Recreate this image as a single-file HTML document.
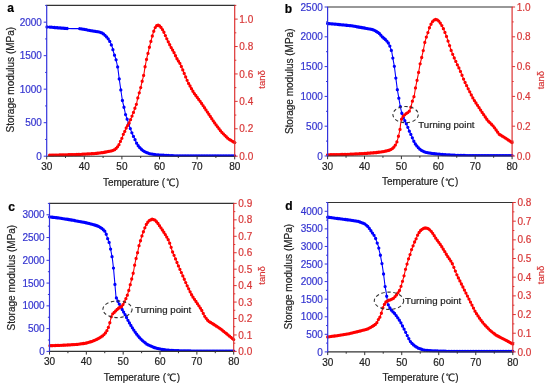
<!DOCTYPE html><html><head><meta charset="utf-8"><title>DMA curves</title><style>html,body{margin:0;padding:0;background:#fff;width:550px;height:388px;overflow:hidden}svg{display:block}text{font-family:"Liberation Sans", Arial, sans-serif;stroke-width:0.2px}</style></head><body>
<svg width="550" height="388" viewBox="0 0 550 388">
<rect width="550" height="388" fill="#fff"/>
<g id="pa"><clipPath id="cpa"><rect x="42.7" y="3.4" width="196" height="153.4"/></clipPath><g clip-path="url(#cpa)"><path d="M47 27 L50 27.1 L58 27.8 L66.9 28.5 L72 28.6 L78.9 28.6 L85 29.5 L90 30.5 L95 31.4 L99.3 31.9 L101.9 32.9 L103.9 34.2 L106.7 37 L108.6 39.3 L110.4 42.6 L112.3 47.2 L113.7 52.8 L116 59.5 L117.8 67.6 L119.1 78 L120.9 90.5 L122.4 100.5 L124.3 108.6 L125.5 114.4 L127.3 119.6 L128.8 124 L130.2 128.3 L131.7 132.4 L133.4 136.3 L135 139.6 L136.2 142.5 L137.9 145.4 L140 147.9 L142.4 150.3 L145.3 152 L149.4 153.6 L154.4 154.5 L160 155.1 L166 155.4 L175 155.8 L234.7 155.9" fill="none" stroke="#0000ff" stroke-width="1.1" stroke-linejoin="round"/><path d="M47 27h0M49.72 27.09h0M51.3 27.21h0M52.88 27.35h0M54.46 27.49h0M56.04 27.63h0M57.62 27.77h0M59.2 27.89h0M60.78 28.02h0M62.36 28.14h0M63.94 28.27h0M65.52 28.39h0M67.1 28.5h0M79.74 28.72h0M81.32 28.96h0M82.9 29.19h0M84.48 29.42h0M86.06 29.71h0M87.64 30.03h0M89.22 30.34h0M90.8 30.64h0M92.38 30.93h0M93.96 31.21h0M95.54 31.46h0M97.12 31.65h0M98.7 31.83h0M100.28 32.28h0M101.86 32.88h0M103.44 33.9h0M105.02 35.32h0M106.6 36.9h0M108.18 38.79h0M109.76 41.43h0M111.34 44.88h0M112.92 49.68h0M114.5 55.13h0M116.08 59.86h0M117.66 66.97h0M119.24 78.97h0M120.82 89.94h0M122.4 100.5h0M123.98 107.24h0M125.56 114.57h0M127.14 119.14h0M128.72 123.77h0M130.3 128.57h0M131.88 132.81h0M133.46 136.42h0M135.04 139.7h0M136.62 143.22h0M138.2 145.76h0M139.78 147.64h0M141.36 149.26h0M142.94 150.62h0M144.52 151.54h0M146.1 152.31h0M147.68 152.93h0M149.26 153.55h0M150.84 153.86h0M152.42 154.14h0M154 154.43h0M155.58 154.63h0M157.16 154.8h0M158.74 154.96h0M160.32 155.12h0M161.9 155.19h0M163.48 155.27h0M165.06 155.35h0M166.64 155.43h0M168.22 155.5h0M169.8 155.57h0M171.38 155.64h0M172.96 155.71h0M174.54 155.78h0M176.12 155.8h0M177.7 155.8h0M179.28 155.81h0M180.86 155.81h0M182.44 155.81h0M184.02 155.82h0M185.6 155.82h0M187.18 155.82h0M188.76 155.82h0M190.34 155.83h0M191.92 155.83h0M193.5 155.83h0M195.08 155.83h0M196.66 155.84h0M198.24 155.84h0M199.82 155.84h0M201.4 155.84h0M202.98 155.85h0M204.56 155.85h0M206.14 155.85h0M207.72 155.85h0M209.3 155.86h0M210.88 155.86h0M212.46 155.86h0M214.04 155.87h0M215.62 155.87h0M217.2 155.87h0M218.78 155.87h0M220.36 155.88h0M221.94 155.88h0M223.52 155.88h0M225.1 155.88h0M226.68 155.89h0M228.26 155.89h0M229.84 155.89h0M231.42 155.89h0M233 155.9h0M234.58 155.9h0" fill="none" stroke="#0000ff" stroke-width="3.3" stroke-linecap="round"/><path d="M49.6 155.2 L60 155 L80 154.4 L94.5 153.6 L103.3 152.5 L109 151.4 L112.6 150.6 L114.8 149.6 L117.1 147.4 L119 144.6 L120.5 141.2 L122 138.1 L123.3 134.4 L125 131 L126.5 127.3 L128.7 123.8 L130.4 120.1 L132 116.1 L133.5 112.3 L134.9 108.3 L136.5 104 L137.5 99.1 L139 93.8 L140.7 87.7 L142.2 81.1 L143.9 74.3 L144.9 67.6 L146.6 59 L148.5 51.2 L150 44.8 L151.6 38.6 L153.1 33.2 L154.7 28.5 L156.2 25.9 L158.2 25.1 L160.1 26.2 L161.9 28.5 L164 32.4 L166.3 37.8 L168.6 42.5 L170.9 47.1 L174 52.5 L176.8 58.5 L180.2 63.8 L183 70.5 L187.8 82 L193.6 92.5 L200.5 101.8 L207.5 112.2 L214.4 122.6 L221.4 131.9 L228.4 138.9 L234.7 142.6" fill="none" stroke="#ff0000" stroke-width="1.1" stroke-linejoin="round"/><path d="M49.6 155.2h0M50.82 155.18h0M52.27 155.15h0M53.72 155.12h0M55.17 155.09h0M56.62 155.06h0M58.07 155.04h0M59.52 155.01h0M60.97 154.97h0M62.42 154.93h0M63.87 154.88h0M65.32 154.84h0M66.77 154.8h0M68.22 154.75h0M69.67 154.71h0M71.12 154.67h0M72.57 154.62h0M74.02 154.58h0M75.47 154.54h0M76.92 154.49h0M78.37 154.45h0M79.82 154.41h0M81.27 154.33h0M82.72 154.25h0M84.17 154.17h0M85.62 154.09h0M87.07 154.01h0M88.52 153.93h0M89.97 153.85h0M91.42 153.77h0M92.87 153.69h0M94.32 153.61h0M95.77 153.44h0M97.22 153.26h0M98.67 153.08h0M100.12 152.9h0M101.57 152.72h0M103.02 152.53h0M104.47 152.27h0M105.92 151.99h0M107.37 151.71h0M108.82 151.43h0M110.27 151.12h0M111.72 150.8h0M113.17 150.34h0M114.62 149.68h0M116.07 148.39h0M117.52 146.78h0M118.97 144.64h0M120.42 141.38h0M121.87 138.37h0M123.32 134.36h0M124.77 131.46h0M126.22 127.99h0M127.67 125.44h0M129.12 122.89h0M130.57 119.67h0M132.02 116.05h0M133.47 112.38h0M134.92 108.25h0M136.37 104.35h0M137.82 97.97h0M139.27 92.83h0M140.72 87.61h0M142.17 81.23h0M143.62 75.42h0M145.07 66.74h0M146.52 59.4h0M147.97 53.38h0M149.42 47.27h0M150.87 41.43h0M152.32 36.01h0M153.77 31.23h0M155.22 27.6h0M156.67 25.71h0M158.12 25.13h0M159.57 25.89h0M161.02 27.38h0M162.47 29.56h0M163.92 32.25h0M165.37 35.62h0M166.82 38.86h0M168.27 41.83h0M169.72 44.74h0M171.17 47.57h0M172.62 50.1h0M174.07 52.65h0M175.52 55.76h0M176.97 58.77h0M178.42 61.03h0M179.87 63.29h0M181.32 66.48h0M182.77 69.95h0M184.22 73.42h0M185.67 76.9h0M187.12 80.37h0M188.57 83.39h0M190.02 86.02h0M191.47 88.64h0M192.92 91.27h0M194.37 93.54h0M195.82 95.49h0M197.27 97.45h0M198.72 99.4h0M200.17 101.36h0M201.62 103.46h0M203.07 105.62h0M204.52 107.77h0M205.97 109.93h0M207.42 112.08h0M208.87 114.26h0M210.32 116.45h0M211.77 118.64h0M213.22 120.82h0M214.67 122.96h0M216.12 124.89h0M217.57 126.81h0M219.02 128.74h0M220.47 130.66h0M221.92 132.42h0M223.37 133.87h0M224.82 135.32h0M226.27 136.77h0M227.72 138.22h0M229.17 139.35h0M230.62 140.2h0M232.07 141.06h0M233.52 141.91h0M234.7 142.6h0" fill="none" stroke="#ff0000" stroke-width="3.3" stroke-linecap="round"/></g><path d="M46.2 5.4H235.2" stroke="#333333" stroke-width="1.1"/><path d="M46.7 156.2H234.7" stroke="#333333" stroke-width="1.1"/><path d="M46.7 5.4V156.7" stroke="#3333dd" stroke-width="1.2"/><path d="M234.7 5.4V156.7" stroke="#dd3333" stroke-width="1.2"/><path d="M46.7 156.2v3.2M65.5 156.2v1.8M84.3 156.2v3.2M103.1 156.2v1.8M121.9 156.2v3.2M140.7 156.2v1.8M159.5 156.2v3.2M178.3 156.2v1.8M197.1 156.2v3.2M215.9 156.2v1.8M234.7 156.2v3.2" stroke="#333333" stroke-width="1"/><text x="46.7" y="169.8" font-size="10" fill="#222222" stroke="#222222" text-anchor="middle">30</text><text x="84.3" y="169.8" font-size="10" fill="#222222" stroke="#222222" text-anchor="middle">40</text><text x="121.9" y="169.8" font-size="10" fill="#222222" stroke="#222222" text-anchor="middle">50</text><text x="159.5" y="169.8" font-size="10" fill="#222222" stroke="#222222" text-anchor="middle">60</text><text x="197.1" y="169.8" font-size="10" fill="#222222" stroke="#222222" text-anchor="middle">70</text><text x="234.7" y="169.8" font-size="10" fill="#222222" stroke="#222222" text-anchor="middle">80</text><text x="41.9" y="159.8" font-size="10" fill="#3535d0" stroke="#3535d0" text-anchor="end">0</text><text x="41.9" y="126.29" font-size="10" fill="#3535d0" stroke="#3535d0" text-anchor="end">500</text><text x="41.9" y="92.78" font-size="10" fill="#3535d0" stroke="#3535d0" text-anchor="end">1000</text><text x="41.9" y="59.27" font-size="10" fill="#3535d0" stroke="#3535d0" text-anchor="end">1500</text><text x="41.9" y="25.76" font-size="10" fill="#3535d0" stroke="#3535d0" text-anchor="end">2000</text><path d="M46.7 156.2h-3M46.7 139.44h-1.6M46.7 122.69h-3M46.7 105.93h-1.6M46.7 89.18h-3M46.7 72.42h-1.6M46.7 55.67h-3M46.7 38.91h-1.6M46.7 22.16h-3M46.7 5.4h-1.6" stroke="#3333dd" stroke-width="1"/><text x="239.3" y="159.8" font-size="10" fill="#d83838" stroke="#d83838">0.0</text><text x="239.3" y="132.38" font-size="10" fill="#d83838" stroke="#d83838">0.2</text><text x="239.3" y="104.96" font-size="10" fill="#d83838" stroke="#d83838">0.4</text><text x="239.3" y="77.55" font-size="10" fill="#d83838" stroke="#d83838">0.6</text><text x="239.3" y="50.13" font-size="10" fill="#d83838" stroke="#d83838">0.8</text><text x="239.3" y="22.71" font-size="10" fill="#d83838" stroke="#d83838">1.0</text><path d="M234.7 156.2h3M234.7 142.49h1.6M234.7 128.78h3M234.7 115.07h1.6M234.7 101.36h3M234.7 87.65h1.6M234.7 73.95h3M234.7 60.24h1.6M234.7 46.53h3M234.7 32.82h1.6M234.7 19.11h3M234.7 5.4h1.6" stroke="#dd3333" stroke-width="1"/><text x="102.9" y="186" font-size="10" fill="#222222" stroke="#222222">Temperature (</text><text x="166.2" y="186.3" font-size="10" fill="#222222" stroke="#222222" style="font-family:'WenQuanYi Zen Hei','Noto Sans CJK SC',sans-serif">℃</text><text x="175.8" y="186" font-size="10" fill="#222222" stroke="#222222">)</text><text transform="translate(14 79.7) rotate(-90)" font-size="10" fill="#222222" stroke="#222222" text-anchor="middle">Storage modulus (MPa)</text><text transform="translate(265.3 79.4) rotate(-90)" font-size="9.5" fill="#d83838" stroke="#d83838" text-anchor="middle">tanδ</text><text x="7.2" y="11.6" font-size="12" font-weight="bold" fill="#000" stroke="#000">a</text></g>
<g id="pb"><clipPath id="cpb"><rect x="323.6" y="5" width="192.5" height="151.6"/></clipPath><g clip-path="url(#cpb)"><path d="M327.6 23.5 L337.9 24.4 L350.8 25.7 L363.7 27.9 L371.4 29.3 L374.3 30.2 L376.5 31.6 L378.9 33 L382.6 37.2 L385.9 40 L388.2 42.7 L390 46.4 L391.7 51.5 L392.7 57.3 L394.4 66.7 L395.8 77.8 L397.3 89.4 L398.75 97.6 L400 105 L400.6 107.8 L401.7 112.8 L403.2 117.4 L405.1 121.3 L406.6 124.4 L408.2 128.2 L409.7 132.1 L411.6 136 L413.1 139.8 L415.1 143.7 L417.5 146.8 L420.5 149.9 L425.2 152.2 L431.4 153.4 L444.5 154.7 L455 155.3 L470 155.6 L512.1 155.7" fill="none" stroke="#0000ff" stroke-width="1.1" stroke-linejoin="round"/><path d="M327.6 23.5h0M328.34 23.56h0M329.84 23.7h0M331.34 23.83h0M332.84 23.96h0M334.34 24.09h0M335.84 24.22h0M337.34 24.35h0M338.84 24.49h0M340.34 24.65h0M341.84 24.8h0M343.34 24.95h0M344.84 25.1h0M346.34 25.25h0M347.84 25.4h0M349.34 25.55h0M350.84 25.71h0M352.34 25.96h0M353.84 26.22h0M355.34 26.47h0M356.84 26.73h0M358.34 26.99h0M359.84 27.24h0M361.34 27.5h0M362.84 27.75h0M364.34 28.02h0M365.84 28.29h0M367.34 28.56h0M368.84 28.83h0M370.34 29.11h0M371.84 29.44h0M373.34 29.9h0M374.84 30.54h0M376.34 31.5h0M377.84 32.38h0M379.34 33.5h0M380.84 35.2h0M382.34 36.9h0M383.84 38.25h0M385.34 39.52h0M386.84 41.1h0M388.34 42.99h0M389.84 46.07h0M391.34 50.42h0M392.84 58.07h0M394.34 66.37h0M395.84 78.11h0M397.34 89.63h0M398.84 98.13h0M400.34 106.59h0M401.84 113.23h0M403.34 117.69h0M404.84 120.77h0M406.34 123.86h0M407.84 127.35h0M409.34 131.16h0M410.84 134.44h0M412.34 137.87h0M413.84 141.24h0M415.34 144.01h0M416.84 145.95h0M418.34 147.67h0M419.84 149.22h0M421.34 150.31h0M422.84 151.05h0M424.34 151.78h0M425.84 152.32h0M427.34 152.61h0M428.84 152.9h0M430.34 153.19h0M431.84 153.44h0M433.34 153.59h0M434.84 153.74h0M436.34 153.89h0M437.84 154.04h0M439.34 154.19h0M440.84 154.34h0M442.34 154.49h0M443.84 154.63h0M445.34 154.75h0M446.84 154.83h0M448.34 154.92h0M449.84 155.01h0M451.34 155.09h0M452.84 155.18h0M454.34 155.26h0M455.84 155.32h0M457.34 155.35h0M458.84 155.38h0M460.34 155.41h0M461.84 155.44h0M463.34 155.47h0M464.84 155.5h0M466.34 155.53h0M467.84 155.56h0M469.34 155.59h0M470.84 155.6h0M472.34 155.61h0M473.84 155.61h0M475.34 155.61h0M476.84 155.62h0M478.34 155.62h0M479.84 155.62h0M481.34 155.63h0M482.84 155.63h0M484.34 155.63h0M485.84 155.64h0M487.34 155.64h0M488.84 155.64h0M490.34 155.65h0M491.84 155.65h0M493.34 155.66h0M494.84 155.66h0M496.34 155.66h0M497.84 155.67h0M499.34 155.67h0M500.84 155.67h0M502.34 155.68h0M503.84 155.68h0M505.34 155.68h0M506.84 155.69h0M508.34 155.69h0M509.84 155.69h0M511.34 155.7h0M512.1 155.7h0" fill="none" stroke="#0000ff" stroke-width="3.3" stroke-linecap="round"/><path d="M327.6 154.8 L346.8 154.4 L364.3 153.5 L375.9 152.6 L383.2 151.6 L386.5 150.9 L389 150.3 L391.2 149.3 L392.6 148.5 L394.3 146.6 L395.4 145 L396.6 142.9 L397.9 138.6 L399.2 133 L400.1 129 L400.5 124.6 L401.5 119.3 L402.6 116.8 L404.5 114.9 L406.8 113.1 L408.5 112.2 L409.6 110.8 L411 106.8 L412.2 101.8 L413.1 98.9 L414.2 96 L415.5 87.9 L417.1 80.1 L418.6 72.4 L419.9 64.8 L421.7 57.5 L423.5 49.5 L424.7 42.8 L426.4 36.9 L428.2 31.7 L429.6 27.3 L431.2 23.8 L433 20.9 L435.1 19.4 L437.2 19.8 L439 21.3 L441.3 24.5 L443.2 28.2 L444.6 31.6 L446.2 35.5 L447.8 40.4 L449.3 44.6 L451 50 L452.9 54.8 L454.9 59.5 L457 64.1 L459.7 69.6 L464.3 80.9 L468.9 90.2 L473.6 99.4 L478.2 106.4 L482.8 113.4 L487.5 120.3 L493.3 126.1 L499.1 134.2 L504.9 137.7 L512.1 142.6" fill="none" stroke="#ff0000" stroke-width="1.1" stroke-linejoin="round"/><path d="M327.6 154.8h0M328.7 154.78h0M330.25 154.74h0M331.8 154.71h0M333.35 154.68h0M334.9 154.65h0M336.45 154.62h0M338 154.58h0M339.55 154.55h0M341.1 154.52h0M342.65 154.49h0M344.2 154.45h0M345.75 154.42h0M347.3 154.37h0M348.85 154.29h0M350.4 154.21h0M351.95 154.14h0M353.5 154.06h0M355.05 153.98h0M356.6 153.9h0M358.15 153.82h0M359.7 153.74h0M361.25 153.66h0M362.8 153.58h0M364.35 153.5h0M365.9 153.38h0M367.45 153.26h0M369 153.14h0M370.55 153.02h0M372.1 152.89h0M373.65 152.77h0M375.2 152.65h0M376.75 152.48h0M378.3 152.27h0M379.85 152.06h0M381.4 151.85h0M382.95 151.63h0M384.5 151.32h0M386.05 151h0M387.6 150.64h0M389.15 150.23h0M390.7 149.53h0M392.25 148.7h0M393.8 147.16h0M395.35 145.07h0M396.9 141.91h0M398.45 136.23h0M400 129.44h0M401.55 119.19h0M403.1 116.3h0M404.65 114.78h0M406.2 113.57h0M407.75 112.6h0M409.3 111.18h0M410.85 107.23h0M412.4 101.16h0M413.95 96.66h0M415.5 87.9h0M417.05 80.34h0M418.6 72.4h0M420.15 63.79h0M421.7 57.5h0M423.25 50.61h0M424.8 42.45h0M426.35 37.07h0M427.9 32.57h0M429.45 27.77h0M431 24.24h0M432.55 21.62h0M434.1 20.11h0M435.65 19.5h0M437.2 19.8h0M438.75 21.09h0M440.3 23.11h0M441.85 25.57h0M443.4 28.69h0M444.95 32.45h0M446.5 36.42h0M448.05 41.1h0M449.6 45.55h0M451.15 50.38h0M452.7 54.29h0M454.25 57.97h0M455.8 61.47h0M457.35 64.81h0M458.9 67.97h0M460.45 71.44h0M462 75.25h0M463.55 79.06h0M465.1 82.52h0M466.65 85.65h0M468.2 88.78h0M469.75 91.86h0M471.3 94.9h0M472.85 97.93h0M474.4 100.62h0M475.95 102.98h0M477.5 105.33h0M479.05 107.69h0M480.6 110.05h0M482.15 112.41h0M483.7 114.72h0M485.25 117h0M486.8 119.27h0M488.35 121.15h0M489.9 122.7h0M491.45 124.25h0M493 125.8h0M494.55 127.85h0M496.1 130.01h0M497.65 132.18h0M499.2 134.26h0M500.75 135.2h0M502.3 136.13h0M503.85 137.07h0M505.4 138.04h0M506.95 139.1h0M508.5 140.15h0M510.05 141.2h0M511.6 142.26h0M512.1 142.6h0" fill="none" stroke="#ff0000" stroke-width="3.3" stroke-linecap="round"/></g><path d="M327.1 7H512.6" stroke="#333333" stroke-width="1.1"/><path d="M327.6 156H512.1" stroke="#333333" stroke-width="1.1"/><path d="M327.6 7V156.5" stroke="#3333dd" stroke-width="1.2"/><path d="M512.1 7V156.5" stroke="#dd3333" stroke-width="1.2"/><path d="M327.6 156v3.2M346.05 156v1.8M364.5 156v3.2M382.95 156v1.8M401.4 156v3.2M419.85 156v1.8M438.3 156v3.2M456.75 156v1.8M475.2 156v3.2M493.65 156v1.8M512.1 156v3.2" stroke="#333333" stroke-width="1"/><text x="327.6" y="169.6" font-size="10" fill="#222222" stroke="#222222" text-anchor="middle">30</text><text x="364.5" y="169.6" font-size="10" fill="#222222" stroke="#222222" text-anchor="middle">40</text><text x="401.4" y="169.6" font-size="10" fill="#222222" stroke="#222222" text-anchor="middle">50</text><text x="438.3" y="169.6" font-size="10" fill="#222222" stroke="#222222" text-anchor="middle">60</text><text x="475.2" y="169.6" font-size="10" fill="#222222" stroke="#222222" text-anchor="middle">70</text><text x="512.1" y="169.6" font-size="10" fill="#222222" stroke="#222222" text-anchor="middle">80</text><text x="322.8" y="159.6" font-size="10" fill="#3535d0" stroke="#3535d0" text-anchor="end">0</text><text x="322.8" y="129.8" font-size="10" fill="#3535d0" stroke="#3535d0" text-anchor="end">500</text><text x="322.8" y="100" font-size="10" fill="#3535d0" stroke="#3535d0" text-anchor="end">1000</text><text x="322.8" y="70.2" font-size="10" fill="#3535d0" stroke="#3535d0" text-anchor="end">1500</text><text x="322.8" y="40.4" font-size="10" fill="#3535d0" stroke="#3535d0" text-anchor="end">2000</text><text x="322.8" y="10.6" font-size="10" fill="#3535d0" stroke="#3535d0" text-anchor="end">2500</text><path d="M327.6 156h-3M327.6 141.1h-1.6M327.6 126.2h-3M327.6 111.3h-1.6M327.6 96.4h-3M327.6 81.5h-1.6M327.6 66.6h-3M327.6 51.7h-1.6M327.6 36.8h-3M327.6 21.9h-1.6M327.6 7h-3" stroke="#3333dd" stroke-width="1"/><text x="516.7" y="159.6" font-size="10" fill="#d83838" stroke="#d83838">0.0</text><text x="516.7" y="129.8" font-size="10" fill="#d83838" stroke="#d83838">0.2</text><text x="516.7" y="100" font-size="10" fill="#d83838" stroke="#d83838">0.4</text><text x="516.7" y="70.2" font-size="10" fill="#d83838" stroke="#d83838">0.6</text><text x="516.7" y="40.4" font-size="10" fill="#d83838" stroke="#d83838">0.8</text><text x="516.7" y="10.6" font-size="10" fill="#d83838" stroke="#d83838">1.0</text><path d="M512.1 156h3M512.1 141.1h1.6M512.1 126.2h3M512.1 111.3h1.6M512.1 96.4h3M512.1 81.5h1.6M512.1 66.6h3M512.1 51.7h1.6M512.1 36.8h3M512.1 21.9h1.6M512.1 7h3" stroke="#dd3333" stroke-width="1"/><text x="382.05" y="185.3" font-size="10" fill="#222222" stroke="#222222">Temperature (</text><text x="445.35" y="185.6" font-size="10" fill="#222222" stroke="#222222" style="font-family:'WenQuanYi Zen Hei','Noto Sans CJK SC',sans-serif">℃</text><text x="454.95" y="185.3" font-size="10" fill="#222222" stroke="#222222">)</text><text transform="translate(292.6 81.3) rotate(-90)" font-size="10" fill="#222222" stroke="#222222" text-anchor="middle">Storage modulus (MPa)</text><text transform="translate(543.5 80.1) rotate(-90)" font-size="9.5" fill="#d83838" stroke="#d83838" text-anchor="middle">tanδ</text><text x="284.8" y="13" font-size="12" font-weight="bold" fill="#000" stroke="#000">b</text><ellipse cx="405.6" cy="114.6" rx="12.7" ry="8.1" fill="none" stroke="#333" stroke-width="1.1" stroke-dasharray="3.4 2.6"/><text x="418.3" y="128.3" font-size="9.7" fill="#222222" stroke="#222222">Turning point</text></g>
<g id="pc"><clipPath id="cpc"><rect x="45.5" y="201.4" width="192.2" height="150.6"/></clipPath><g clip-path="url(#cpc)"><path d="M49.5 216.9 L59.9 218.1 L72.8 220.2 L85.7 222.7 L93.4 224.6 L98.5 226.3 L102.4 228.8 L105 231.4 L106.3 234.4 L107.6 238.5 L109.5 243.4 L110.8 250.2 L112.3 258.1 L113.5 268.2 L114.8 282.9 L115.4 290 L116 297 L117.9 301.4 L120 305.5 L122.5 310.1 L124.7 314 L126.7 317.8 L128.7 321.7 L130.9 325.5 L133.3 329.4 L136 333.3 L139 337.1 L142.9 341 L147.3 344.5 L154.5 347.7 L161.8 349.4 L169 350.3 L180 350.8 L195 351.1 L233.7 351.1" fill="none" stroke="#0000ff" stroke-width="1.1" stroke-linejoin="round"/><path d="M49.68 216.92h0M51.13 217.09h0M52.58 217.26h0M54.03 217.42h0M55.48 217.59h0M56.93 217.76h0M58.38 217.92h0M59.83 218.09h0M61.28 218.32h0M62.73 218.56h0M64.18 218.8h0M65.63 219.03h0M67.08 219.27h0M68.53 219.5h0M69.98 219.74h0M71.43 219.98h0M72.88 220.22h0M74.33 220.5h0M75.78 220.78h0M77.23 221.06h0M78.68 221.34h0M80.13 221.62h0M81.58 221.9h0M83.03 222.18h0M84.48 222.46h0M85.93 222.76h0M87.38 223.11h0M88.83 223.47h0M90.28 223.83h0M91.73 224.19h0M93.18 224.55h0M94.63 225.01h0M96.08 225.49h0M97.53 225.98h0M98.98 226.61h0M100.43 227.54h0M101.88 228.47h0M103.33 229.73h0M104.78 231.18h0M106.23 234.24h0M107.68 238.71h0M109.13 242.45h0M110.58 249.05h0M112.03 256.68h0M113.48 268.03h0M114.93 284.44h0M116.38 297.88h0M117.83 301.24h0M119.28 304.09h0M120.73 306.84h0M122.18 309.51h0M123.63 312.1h0M125.08 314.72h0M126.53 317.48h0M127.98 320.3h0M129.43 322.96h0M130.88 325.47h0M132.33 327.82h0M133.78 330.09h0M135.23 332.19h0M136.68 334.16h0M138.13 336h0M139.58 337.68h0M141.03 339.13h0M142.48 340.58h0M143.93 341.82h0M145.38 342.97h0M146.83 344.13h0M148.28 344.94h0M149.73 345.58h0M151.18 346.22h0M152.63 346.87h0M154.08 347.51h0M155.53 347.94h0M156.98 348.28h0M158.43 348.62h0M159.88 348.95h0M161.33 349.29h0M162.78 349.52h0M164.23 349.7h0M165.68 349.89h0M167.13 350.07h0M168.58 350.25h0M170.03 350.35h0M171.48 350.41h0M172.93 350.48h0M174.38 350.54h0M175.83 350.61h0M177.28 350.68h0M178.73 350.74h0M180.18 350.8h0M181.63 350.83h0M183.08 350.86h0M184.53 350.89h0M185.98 350.92h0M187.43 350.95h0M188.88 350.98h0M190.33 351.01h0M191.78 351.04h0M193.23 351.06h0M194.68 351.09h0M196.13 351.1h0M197.58 351.1h0M199.03 351.1h0M200.48 351.1h0M201.93 351.1h0M203.38 351.1h0M204.83 351.1h0M206.28 351.1h0M207.73 351.1h0M209.18 351.1h0M210.63 351.1h0M212.08 351.1h0M213.53 351.1h0M214.98 351.1h0M216.43 351.1h0M217.88 351.1h0M219.33 351.1h0M220.78 351.1h0M222.23 351.1h0M223.68 351.1h0M225.13 351.1h0M226.58 351.1h0M228.03 351.1h0M229.48 351.1h0M230.93 351.1h0M232.38 351.1h0M233.7 351.1h0" fill="none" stroke="#0000ff" stroke-width="3.3" stroke-linecap="round"/><path d="M49.5 345.7 L64.1 345.2 L76.8 344.4 L85.7 343.2 L92.1 341.4 L95 340.2 L98.1 338.7 L102 336.4 L104.5 334.1 L106.1 332.1 L107.4 329.8 L108.8 326.3 L110.4 320.7 L111.5 315.8 L112.6 314 L114.4 312.2 L117.3 309.3 L119.5 307.5 L121.6 306.6 L123.4 303.9 L125.3 300 L127.1 296 L128.8 290.4 L130.2 284.9 L131.8 278.7 L133.3 272.8 L134.75 264.5 L136.1 258.4 L137.7 252.1 L138.7 246.8 L140.2 241.7 L141.7 236.6 L143.3 232 L144.7 228.2 L146.5 224.1 L148.8 220.8 L152.1 219.2 L155.3 220.3 L158.1 223.6 L160.9 227.8 L163.7 232 L166 235.7 L168.3 239.8 L169.8 243.5 L171.2 247.5 L172 250.6 L174 255.2 L175.6 259.1 L177.8 264.5 L182.8 275.9 L187.4 286.3 L192 295.6 L196.7 302.6 L201.3 309.5 L204.8 316.5 L208.3 321.1 L214.1 324.6 L221 329.2 L226.8 333.9 L233.7 339.6" fill="none" stroke="#ff0000" stroke-width="1.1" stroke-linejoin="round"/><path d="M49.96 345.68h0M51.42 345.63h0M52.88 345.58h0M54.34 345.53h0M55.8 345.48h0M57.26 345.43h0M58.72 345.38h0M60.18 345.33h0M61.64 345.28h0M63.1 345.23h0M64.56 345.17h0M66.02 345.08h0M67.48 344.99h0M68.94 344.9h0M70.4 344.8h0M71.86 344.71h0M73.32 344.62h0M74.78 344.53h0M76.24 344.44h0M77.7 344.28h0M79.16 344.08h0M80.62 343.88h0M82.08 343.69h0M83.54 343.49h0M85 343.29h0M86.46 342.99h0M87.92 342.58h0M89.38 342.16h0M90.84 341.75h0M92.3 341.32h0M93.76 340.71h0M95.22 340.09h0M96.68 339.39h0M98.14 338.68h0M99.6 337.82h0M101.06 336.95h0M102.52 335.92h0M103.98 334.58h0M105.44 332.93h0M106.9 330.68h0M108.36 327.4h0M109.82 322.73h0M111.28 316.78h0M112.74 313.86h0M114.2 312.4h0M115.66 310.94h0M117.12 309.48h0M118.58 308.25h0M120.04 307.27h0M121.5 306.64h0M122.96 304.56h0M124.42 301.81h0M125.88 298.71h0M127.34 295.21h0M128.8 290.4h0M130.26 284.67h0M131.72 279.01h0M133.18 273.27h0M134.64 265.13h0M136.1 258.4h0M137.56 252.65h0M139.02 245.71h0M140.48 240.75h0M141.94 235.91h0M143.4 231.73h0M144.86 227.84h0M146.32 224.51h0M147.78 222.26h0M149.24 220.59h0M150.7 219.88h0M152.16 219.22h0M153.62 219.72h0M155.08 220.22h0M156.54 221.76h0M158 223.48h0M159.46 225.64h0M160.92 227.83h0M162.38 230.02h0M163.84 232.23h0M165.3 234.57h0M166.76 237.05h0M168.22 239.66h0M169.68 243.2h0M171.14 247.33h0M172.6 251.98h0M174.06 255.35h0M175.52 258.91h0M176.98 262.49h0M178.44 265.96h0M179.9 269.29h0M181.36 272.62h0M182.82 275.95h0M184.28 279.25h0M185.74 282.55h0M187.2 285.85h0M188.66 288.85h0M190.12 291.8h0M191.58 294.75h0M193.04 297.15h0M194.5 299.32h0M195.96 301.5h0M197.42 303.68h0M198.88 305.87h0M200.34 308.06h0M201.8 310.5h0M203.26 313.42h0M204.72 316.34h0M206.18 318.31h0M207.64 320.23h0M209.1 321.58h0M210.56 322.46h0M212.02 323.34h0M213.48 324.23h0M214.94 325.16h0M216.4 326.13h0M217.86 327.11h0M219.32 328.08h0M220.78 329.05h0M222.24 330.2h0M223.7 331.39h0M225.16 332.57h0M226.62 333.75h0M228.08 334.96h0M229.54 336.16h0M231 337.37h0M232.46 338.58h0M233.7 339.6h0" fill="none" stroke="#ff0000" stroke-width="3.3" stroke-linecap="round"/></g><path d="M49 203.4H234.2" stroke="#333333" stroke-width="1.1"/><path d="M49.5 351.4H233.7" stroke="#333333" stroke-width="1.1"/><path d="M49.5 203.4V351.9" stroke="#3333dd" stroke-width="1.2"/><path d="M233.7 203.4V351.9" stroke="#dd3333" stroke-width="1.2"/><path d="M49.5 351.4v3.2M67.92 351.4v1.8M86.34 351.4v3.2M104.76 351.4v1.8M123.18 351.4v3.2M141.6 351.4v1.8M160.02 351.4v3.2M178.44 351.4v1.8M196.86 351.4v3.2M215.28 351.4v1.8M233.7 351.4v3.2" stroke="#333333" stroke-width="1"/><text x="49.5" y="365" font-size="10" fill="#222222" stroke="#222222" text-anchor="middle">30</text><text x="86.34" y="365" font-size="10" fill="#222222" stroke="#222222" text-anchor="middle">40</text><text x="123.18" y="365" font-size="10" fill="#222222" stroke="#222222" text-anchor="middle">50</text><text x="160.02" y="365" font-size="10" fill="#222222" stroke="#222222" text-anchor="middle">60</text><text x="196.86" y="365" font-size="10" fill="#222222" stroke="#222222" text-anchor="middle">70</text><text x="233.7" y="365" font-size="10" fill="#222222" stroke="#222222" text-anchor="middle">80</text><text x="44.7" y="355" font-size="10" fill="#3535d0" stroke="#3535d0" text-anchor="end">0</text><text x="44.7" y="332.23" font-size="10" fill="#3535d0" stroke="#3535d0" text-anchor="end">500</text><text x="44.7" y="309.46" font-size="10" fill="#3535d0" stroke="#3535d0" text-anchor="end">1000</text><text x="44.7" y="286.69" font-size="10" fill="#3535d0" stroke="#3535d0" text-anchor="end">1500</text><text x="44.7" y="263.92" font-size="10" fill="#3535d0" stroke="#3535d0" text-anchor="end">2000</text><text x="44.7" y="241.15" font-size="10" fill="#3535d0" stroke="#3535d0" text-anchor="end">2500</text><text x="44.7" y="218.38" font-size="10" fill="#3535d0" stroke="#3535d0" text-anchor="end">3000</text><path d="M49.5 351.4h-3M49.5 340.02h-1.6M49.5 328.63h-3M49.5 317.25h-1.6M49.5 305.86h-3M49.5 294.48h-1.6M49.5 283.09h-3M49.5 271.71h-1.6M49.5 260.32h-3M49.5 248.94h-1.6M49.5 237.55h-3M49.5 226.17h-1.6M49.5 214.78h-3M49.5 203.4h-1.6" stroke="#3333dd" stroke-width="1"/><text x="238.3" y="355" font-size="10" fill="#d83838" stroke="#d83838">0.0</text><text x="238.3" y="338.56" font-size="10" fill="#d83838" stroke="#d83838">0.1</text><text x="238.3" y="322.11" font-size="10" fill="#d83838" stroke="#d83838">0.2</text><text x="238.3" y="305.67" font-size="10" fill="#d83838" stroke="#d83838">0.3</text><text x="238.3" y="289.22" font-size="10" fill="#d83838" stroke="#d83838">0.4</text><text x="238.3" y="272.78" font-size="10" fill="#d83838" stroke="#d83838">0.5</text><text x="238.3" y="256.33" font-size="10" fill="#d83838" stroke="#d83838">0.6</text><text x="238.3" y="239.89" font-size="10" fill="#d83838" stroke="#d83838">0.7</text><text x="238.3" y="223.44" font-size="10" fill="#d83838" stroke="#d83838">0.8</text><text x="238.3" y="207" font-size="10" fill="#d83838" stroke="#d83838">0.9</text><path d="M233.7 351.4h3M233.7 343.18h1.6M233.7 334.96h3M233.7 326.73h1.6M233.7 318.51h3M233.7 310.29h1.6M233.7 302.07h3M233.7 293.84h1.6M233.7 285.62h3M233.7 277.4h1.6M233.7 269.18h3M233.7 260.96h1.6M233.7 252.73h3M233.7 244.51h1.6M233.7 236.29h3M233.7 228.07h1.6M233.7 219.84h3M233.7 211.62h1.6M233.7 203.4h3" stroke="#dd3333" stroke-width="1"/><text x="103.8" y="380.6" font-size="10" fill="#222222" stroke="#222222">Temperature (</text><text x="167.1" y="380.9" font-size="10" fill="#222222" stroke="#222222" style="font-family:'WenQuanYi Zen Hei','Noto Sans CJK SC',sans-serif">℃</text><text x="176.7" y="380.6" font-size="10" fill="#222222" stroke="#222222">)</text><text transform="translate(15.3 277.6) rotate(-90)" font-size="10" fill="#222222" stroke="#222222" text-anchor="middle">Storage modulus (MPa)</text><text transform="translate(264.6 275.5) rotate(-90)" font-size="9.5" fill="#d83838" stroke="#d83838" text-anchor="middle">tanδ</text><text x="8.2" y="210.9" font-size="12" font-weight="bold" fill="#000" stroke="#000">c</text><ellipse cx="117.5" cy="309.3" rx="14.6" ry="8.3" fill="none" stroke="#333" stroke-width="1.1" stroke-dasharray="3.4 2.6"/><text x="135.1" y="313" font-size="9.7" fill="#222222" stroke="#222222">Turning point</text></g>
<g id="pd"><clipPath id="cpd"><rect x="323.7" y="200.5" width="193.1" height="152"/></clipPath><g clip-path="url(#cpd)"><path d="M327.7 217.2 L337.9 218.5 L350.8 220.2 L358.5 221.5 L364.3 223.6 L368 226.6 L370.3 229.8 L371.9 232.3 L373.7 234.7 L375.3 237.5 L376.6 241.4 L378.6 246.8 L379.1 250.1 L380.2 254.3 L382.1 264.3 L383.6 274.4 L384.3 280 L385.1 286.5 L386.3 293.1 L386.9 297.8 L387.9 304 L389.7 307.8 L392 310.9 L395.1 314 L397.8 317.9 L400.4 321.8 L402.3 325.6 L404.45 329.8 L406.5 334 L408.5 338.2 L410.8 342.3 L414 345.4 L418.4 348.2 L424.2 350.2 L433.1 350.9 L450.9 351.4 L512.8 351.5" fill="none" stroke="#0000ff" stroke-width="1.1" stroke-linejoin="round"/><path d="M327.7 217.2h0M328.24 217.27h0M329.82 217.47h0M331.4 217.67h0M332.98 217.87h0M334.56 218.07h0M336.14 218.28h0M337.72 218.48h0M339.3 218.68h0M340.88 218.89h0M342.46 219.1h0M344.04 219.31h0M345.62 219.52h0M347.2 219.73h0M348.78 219.93h0M350.36 220.14h0M351.94 220.39h0M353.52 220.66h0M355.1 220.93h0M356.68 221.19h0M358.26 221.46h0M359.84 221.99h0M361.42 222.56h0M363 223.13h0M364.58 223.83h0M366.16 225.11h0M367.74 226.39h0M369.32 228.44h0M370.9 230.74h0M372.48 233.07h0M374.06 235.33h0M375.64 238.52h0M377.22 243.07h0M378.8 248.12h0M380.38 255.25h0M381.96 263.56h0M383.54 274h0M385.12 286.61h0M386.7 296.23h0M388.28 304.8h0M389.86 308.02h0M391.44 310.15h0M393.02 311.92h0M394.6 313.5h0M396.18 315.56h0M397.76 317.84h0M399.34 320.21h0M400.92 322.84h0M402.5 325.99h0M404.08 329.08h0M405.66 332.28h0M407.24 335.55h0M408.82 338.77h0M410.4 341.59h0M411.98 343.44h0M413.56 344.97h0M415.14 346.13h0M416.72 347.13h0M418.3 348.14h0M419.88 348.71h0M421.46 349.26h0M423.04 349.8h0M424.62 350.23h0M426.2 350.36h0M427.78 350.48h0M429.36 350.61h0M430.94 350.73h0M432.52 350.85h0M434.1 350.93h0M435.68 350.97h0M437.26 351.02h0M438.84 351.06h0M440.42 351.11h0M442 351.15h0M443.58 351.19h0M445.16 351.24h0M446.74 351.28h0M448.32 351.33h0M449.9 351.37h0M451.48 351.4h0M453.06 351.4h0M454.64 351.41h0M456.22 351.41h0M457.8 351.41h0M459.38 351.41h0M460.96 351.42h0M462.54 351.42h0M464.12 351.42h0M465.7 351.42h0M467.28 351.43h0M468.86 351.43h0M470.44 351.43h0M472.02 351.43h0M473.6 351.44h0M475.18 351.44h0M476.76 351.44h0M478.34 351.44h0M479.92 351.45h0M481.5 351.45h0M483.08 351.45h0M484.66 351.45h0M486.24 351.46h0M487.82 351.46h0M489.4 351.46h0M490.98 351.46h0M492.56 351.47h0M494.14 351.47h0M495.72 351.47h0M497.3 351.47h0M498.88 351.48h0M500.46 351.48h0M502.04 351.48h0M503.62 351.49h0M505.2 351.49h0M506.78 351.49h0M508.36 351.49h0M509.94 351.5h0M511.52 351.5h0M512.8 351.5h0" fill="none" stroke="#0000ff" stroke-width="3.3" stroke-linecap="round"/><path d="M327.7 336.9 L337.7 335.6 L350.4 333.4 L360.6 330.9 L367.4 329.1 L371.2 327.1 L375 324.8 L377.2 322.2 L378.4 319.5 L379.9 317.1 L381.3 313.5 L382.6 308.5 L383.9 305.3 L385.6 302.2 L388.4 300.4 L391 299.6 L393.5 298.3 L396.5 294.9 L399.3 291 L401.1 286.1 L402.7 280.7 L404 275.9 L405.45 269.6 L407 264.2 L408.5 259 L410.2 254.2 L411.6 249.5 L413.2 245.5 L414.7 241.7 L416.2 238.6 L417.8 234.7 L420.1 230.9 L423.2 228.5 L426 227.8 L428.6 228.9 L430.9 230.9 L433.2 234 L435.5 237.8 L437.9 241.2 L440.2 244.3 L442.5 247.9 L444.8 251.7 L447.1 255.6 L449.5 259.1 L451.8 262.5 L453.8 267.2 L457 275.1 L461.6 284.4 L466.2 293.6 L470.9 302.9 L475.5 312.2 L480.2 319.2 L484.8 325 L490.6 330.8 L496.4 335.4 L503.4 338.9 L512.8 344" fill="none" stroke="#ff0000" stroke-width="1.1" stroke-linejoin="round"/><path d="M327.7 336.9h0M328.52 336.79h0M330.03 336.6h0M331.54 336.4h0M333.05 336.2h0M334.56 336.01h0M336.07 335.81h0M337.58 335.62h0M339.09 335.36h0M340.6 335.1h0M342.11 334.84h0M343.62 334.57h0M345.13 334.31h0M346.64 334.05h0M348.15 333.79h0M349.66 333.53h0M351.17 333.21h0M352.68 332.84h0M354.19 332.47h0M355.7 332.1h0M357.21 331.73h0M358.72 331.36h0M360.23 330.99h0M361.74 330.6h0M363.25 330.2h0M364.76 329.8h0M366.27 329.4h0M367.78 328.9h0M369.29 328.11h0M370.8 327.31h0M372.31 326.43h0M373.82 325.51h0M375.33 324.41h0M376.84 322.63h0M378.35 319.61h0M379.86 317.16h0M381.37 313.23h0M382.88 307.81h0M384.39 304.41h0M385.9 302.01h0M387.41 301.04h0M388.92 300.24h0M390.43 299.78h0M391.94 299.11h0M393.45 298.33h0M394.96 296.65h0M396.47 294.93h0M397.98 292.84h0M399.49 290.48h0M401 286.37h0M402.51 281.34h0M404.02 275.81h0M405.53 269.32h0M407.04 264.06h0M408.55 258.86h0M410.06 254.6h0M411.57 249.6h0M413.08 245.8h0M414.59 241.98h0M416.1 238.81h0M417.61 235.16h0M419.12 232.52h0M420.63 230.49h0M422.14 229.32h0M423.65 228.39h0M425.16 228.01h0M426.67 228.08h0M428.18 228.72h0M429.69 229.85h0M431.2 231.3h0M432.71 233.34h0M434.22 235.69h0M435.73 238.13h0M437.24 240.26h0M438.75 242.35h0M440.26 244.39h0M441.77 246.76h0M443.28 249.19h0M444.79 251.68h0M446.3 254.24h0M447.81 256.64h0M449.32 258.84h0M450.83 261.07h0M452.34 263.77h0M453.85 267.32h0M455.36 271.05h0M456.87 274.78h0M458.38 277.89h0M459.89 280.94h0M461.4 284h0M462.91 287.02h0M464.42 290.04h0M465.93 293.06h0M467.44 296.05h0M468.95 299.04h0M470.46 302.03h0M471.97 305.06h0M473.48 308.12h0M474.99 311.17h0M476.5 313.69h0M478.01 315.94h0M479.52 318.19h0M481.03 320.25h0M482.54 322.15h0M484.05 324.05h0M485.56 325.76h0M487.07 327.27h0M488.58 328.78h0M490.09 330.29h0M491.6 331.59h0M493.11 332.79h0M494.62 333.99h0M496.13 335.19h0M497.64 336.02h0M499.15 336.77h0M500.66 337.53h0M502.17 338.28h0M503.68 339.05h0M505.19 339.87h0M506.7 340.69h0M508.21 341.51h0M509.72 342.33h0M511.23 343.15h0M512.74 343.97h0" fill="none" stroke="#ff0000" stroke-width="3.3" stroke-linecap="round"/></g><path d="M327.2 202.5H513.3" stroke="#333333" stroke-width="1.1"/><path d="M327.7 351.9H512.8" stroke="#333333" stroke-width="1.1"/><path d="M327.7 202.5V352.4" stroke="#3333dd" stroke-width="1.2"/><path d="M512.8 202.5V352.4" stroke="#dd3333" stroke-width="1.2"/><path d="M327.7 351.9v3.2M346.21 351.9v1.8M364.72 351.9v3.2M383.23 351.9v1.8M401.74 351.9v3.2M420.25 351.9v1.8M438.76 351.9v3.2M457.27 351.9v1.8M475.78 351.9v3.2M494.29 351.9v1.8M512.8 351.9v3.2" stroke="#333333" stroke-width="1"/><text x="327.7" y="365.5" font-size="10" fill="#222222" stroke="#222222" text-anchor="middle">30</text><text x="364.72" y="365.5" font-size="10" fill="#222222" stroke="#222222" text-anchor="middle">40</text><text x="401.74" y="365.5" font-size="10" fill="#222222" stroke="#222222" text-anchor="middle">50</text><text x="438.76" y="365.5" font-size="10" fill="#222222" stroke="#222222" text-anchor="middle">60</text><text x="475.78" y="365.5" font-size="10" fill="#222222" stroke="#222222" text-anchor="middle">70</text><text x="512.8" y="365.5" font-size="10" fill="#222222" stroke="#222222" text-anchor="middle">80</text><text x="322.9" y="355.5" font-size="10" fill="#3535d0" stroke="#3535d0" text-anchor="end">0</text><text x="322.9" y="337.92" font-size="10" fill="#3535d0" stroke="#3535d0" text-anchor="end">500</text><text x="322.9" y="320.35" font-size="10" fill="#3535d0" stroke="#3535d0" text-anchor="end">1000</text><text x="322.9" y="302.77" font-size="10" fill="#3535d0" stroke="#3535d0" text-anchor="end">1500</text><text x="322.9" y="285.19" font-size="10" fill="#3535d0" stroke="#3535d0" text-anchor="end">2000</text><text x="322.9" y="267.62" font-size="10" fill="#3535d0" stroke="#3535d0" text-anchor="end">2500</text><text x="322.9" y="250.04" font-size="10" fill="#3535d0" stroke="#3535d0" text-anchor="end">3000</text><text x="322.9" y="232.46" font-size="10" fill="#3535d0" stroke="#3535d0" text-anchor="end">3500</text><text x="322.9" y="214.89" font-size="10" fill="#3535d0" stroke="#3535d0" text-anchor="end">4000</text><path d="M327.7 351.9h-3M327.7 343.11h-1.6M327.7 334.32h-3M327.7 325.54h-1.6M327.7 316.75h-3M327.7 307.96h-1.6M327.7 299.17h-3M327.7 290.38h-1.6M327.7 281.59h-3M327.7 272.81h-1.6M327.7 264.02h-3M327.7 255.23h-1.6M327.7 246.44h-3M327.7 237.65h-1.6M327.7 228.86h-3M327.7 220.08h-1.6M327.7 211.29h-3M327.7 202.5h-1.6" stroke="#3333dd" stroke-width="1"/><text x="517.4" y="355.5" font-size="10" fill="#d83838" stroke="#d83838">0.0</text><text x="517.4" y="336.82" font-size="10" fill="#d83838" stroke="#d83838">0.1</text><text x="517.4" y="318.15" font-size="10" fill="#d83838" stroke="#d83838">0.2</text><text x="517.4" y="299.48" font-size="10" fill="#d83838" stroke="#d83838">0.3</text><text x="517.4" y="280.8" font-size="10" fill="#d83838" stroke="#d83838">0.4</text><text x="517.4" y="262.12" font-size="10" fill="#d83838" stroke="#d83838">0.5</text><text x="517.4" y="243.45" font-size="10" fill="#d83838" stroke="#d83838">0.6</text><text x="517.4" y="224.78" font-size="10" fill="#d83838" stroke="#d83838">0.7</text><text x="517.4" y="206.1" font-size="10" fill="#d83838" stroke="#d83838">0.8</text><path d="M512.8 351.9h3M512.8 342.56h1.6M512.8 333.22h3M512.8 323.89h1.6M512.8 314.55h3M512.8 305.21h1.6M512.8 295.88h3M512.8 286.54h1.6M512.8 277.2h3M512.8 267.86h1.6M512.8 258.52h3M512.8 249.19h1.6M512.8 239.85h3M512.8 230.51h1.6M512.8 221.18h3M512.8 211.84h1.6M512.8 202.5h3" stroke="#dd3333" stroke-width="1"/><text x="382.45" y="380.8" font-size="10" fill="#222222" stroke="#222222">Temperature (</text><text x="445.75" y="381.1" font-size="10" fill="#222222" stroke="#222222" style="font-family:'WenQuanYi Zen Hei','Noto Sans CJK SC',sans-serif">℃</text><text x="455.35" y="380.8" font-size="10" fill="#222222" stroke="#222222">)</text><text transform="translate(292.3 276.7) rotate(-90)" font-size="10" fill="#222222" stroke="#222222" text-anchor="middle">Storage modulus (MPa)</text><text transform="translate(543.8 275) rotate(-90)" font-size="9.5" fill="#d83838" stroke="#d83838" text-anchor="middle">tanδ</text><text x="285.2" y="209.9" font-size="12" font-weight="bold" fill="#000" stroke="#000">d</text><ellipse cx="389" cy="300.8" rx="14.7" ry="8.7" fill="none" stroke="#333" stroke-width="1.1" stroke-dasharray="3.4 2.6"/><text x="405.1" y="304.1" font-size="9.7" fill="#222222" stroke="#222222">Turning point</text></g>
</svg></body></html>
